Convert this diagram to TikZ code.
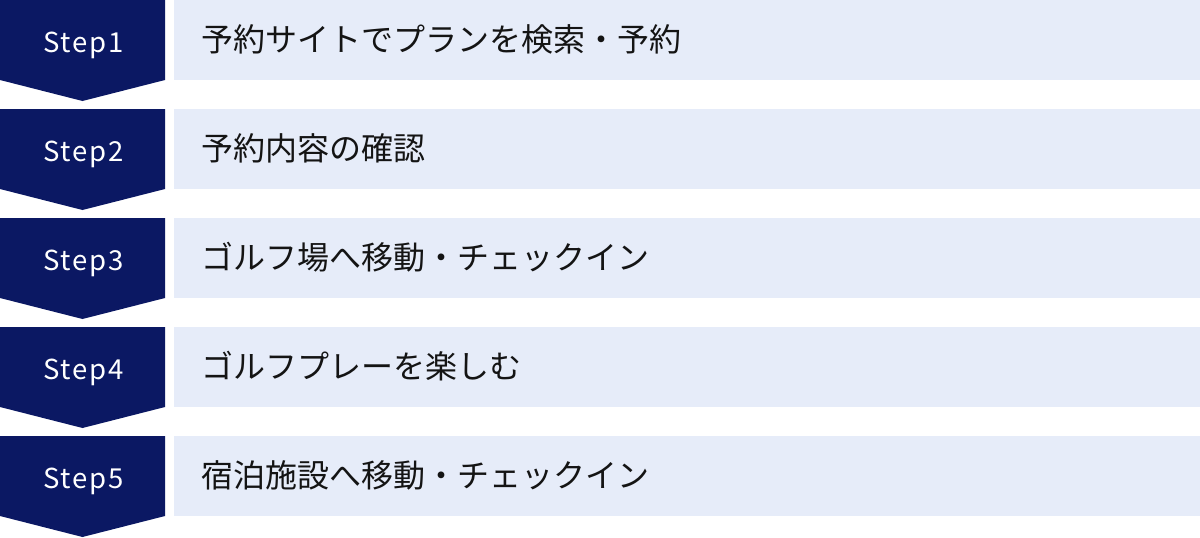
\documentclass[tikz,border=0pt]{standalone}
\usepackage{fontspec}
\setmainfont{Noto Sans CJK JP}
\newfontfamily\stepfont[LetterSpace=7]{Noto Sans CJK JP}
\newfontfamily\jpfont{Noto Sans CJK JP}
\definecolor{navy}{RGB}{11,24,99}
\definecolor{lightbg}{RGB}{230,236,249}
\definecolor{ink}{RGB}{20,20,20}
\tikzset{
  chevron/.style={fill=navy},
  steplabel/.style={text=white, font=\stepfont\fontsize{27.5}{32}\selectfont, anchor=base, inner sep=0pt},
  bar/.style={fill=lightbg, draw=none, anchor=north west, minimum width=1026pt, minimum height=80pt, inner sep=0pt},
  barlabel/.style={text=ink, font=\jpfont\fontsize{32}{36}\selectfont, anchor=base west, inner sep=0pt}
}
\begin{document}
\begin{tikzpicture}[x=1pt,y=-1pt]
\useasboundingbox (0,0) rectangle (1200,538);
\foreach \i/\t in {1/予約サイトでプランを検索・予約, 2/予約内容の確認, 3/ゴルフ場へ移動・チェックイン, 4/ゴルフプレーを楽しむ, 5/宿泊施設へ移動・チェックイン}{
  \pgfmathsetmacro{\yy}{(\i-1)*109}
  \fill[chevron] (0,\yy) -- (165,\yy) -- (165,\yy+80) -- (82.5,\yy+101) -- (0,\yy+80) -- cycle;
  \node[steplabel] (s\i) at (83.5,\yy+52) {Step\i};
  \node[bar] (b\i) at (174,\yy) {};
  \node[barlabel] (t\i) at (201,\yy+51) {\t};
}
\end{tikzpicture}
\end{document}
